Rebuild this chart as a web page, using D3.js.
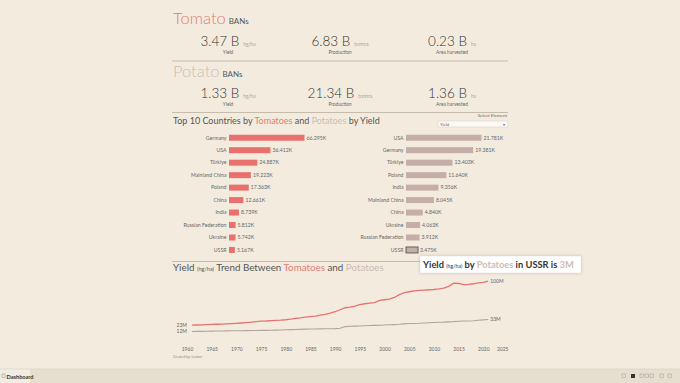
<!DOCTYPE html>
<html><head><meta charset="utf-8">
<script src="https://cdn.jsdelivr.net/npm/d3@7"></script>
<style>
html,body{margin:0;padding:0;background:#f3ecde;}
svg{display:block;font-family:Lato,"Open Sans",sans-serif;}
</style></head>
<body><svg id="c" width="680" height="383"></svg>
<script>
// ---- data ----
const banLabels = ["Yield","Production","Area harvested"];
const banUnits = ["hg/ha","tonnes","ha"];
const tomatoBans = ["3.47 B","6.83 B","0.23 B"];
const potatoBans = ["1.33 B","21.34 B","1.36 B"];

const tomatoCountries = ["Germany","USA","Türkiye","Mainland China","Poland","China","India","Russian Federation","Ukraine","USSR"];
const tomatoYield = [66295,36412,24887,19223,17363,12661,8739,5812,5742,5167];
const tomatoYieldLabels = ["66.295K","36.412K","24.887K","19.223K","17.363K","12.661K","8.739K","5.812K","5.742K","5.167K"];
const potatoCountries = ["USA","Germany","Türkiye","Poland","India","Mainland China","China","Ukraine","Russian Federation","USSR"];
const potatoYield = [21781,19381,13403,11640,9356,8045,4840,4063,3912,3475];
const potatoYieldLabels = ["21.781K","19.381K","13.403K","11.640K","9.356K","8.045K","4.840K","4.063K","3.912K","3.475K"];

const years = d3.range(1961,2022);
const tomatoTrend = [23,23.3,23.6,24,24.3,24.6,25,25.3,25.7,26.2,26.8,27.5,28.2,29.2,30,30.3,30.8,31.3,31.8,32.5,33.5,35,35.8,37,38,39,40.5,42,44,46.5,50,53.5,54.5,56.5,59,60.5,61.5,62.5,66.5,67.5,68.5,71.5,76.5,80,81.5,83,84,84.5,85,85.5,86.5,88,91,96.5,96,94,94.5,95.5,97,98,100];
const potatoTrend = [12,12.1,12.2,12.4,12.6,12.7,12.8,13,13.1,13.3,13.3,13.4,13.6,13.7,13.8,13.9,14.1,14.3,14.6,15,15.2,15.4,15.7,16,16.2,16.3,16.5,16.6,16.8,17,17.5,20.5,21,21.3,21.6,22,22.3,22.6,22.9,23.3,23.6,24,24.5,25.2,25.8,26,26.3,26.8,27.2,27.6,28,28.3,28.8,29.2,29.8,30.3,30.4,30.8,31.5,32.2,33];
const xTicks = [1960,1965,1970,1975,1980,1985,1990,1995,2000,2005,2010,2015,2020,2025];

// ---- styles ----
const C = {tomato:"#e8716e", tomatoTitle:"#e27b77", potato:"#c4aea7", potatoTitle:"#cbbcb5", potatoLine:"#b3a39c", text:"#444", sub:"#6a6a6a", rule:"#b9b0a0"};
const svg = d3.select("#c");
const L = 172, R = 508;

// ---- BANs ----
function banBlock(title, color, vals, yTitle, yVal, yLab){
  const t = svg.append("text").attr("x",173).attr("y",yTitle).attr("font-size",16.5).attr("font-weight",300).attr("fill",color).text(title);
  t.append("tspan").attr("font-size",8).attr("font-weight",400).attr("fill","#555").attr("dx",3).text("BANs");
  const centers = d3.scalePoint().domain(d3.range(3)).range([228,452]);
  vals.forEach((v,i)=>{
    const tx = svg.append("text").attr("x",centers(i)).attr("y",yVal).attr("text-anchor","middle").attr("font-size",13.5).attr("font-weight",300).attr("fill","#333").text(v);
    tx.append("tspan").attr("font-size",4.8).attr("fill","#666").attr("dx",4).text(banUnits[i]);
    svg.append("text").attr("x",centers(i)).attr("y",yLab).attr("text-anchor","middle").attr("font-size",4.8).attr("fill","#666").text(banLabels[i]);
  });
}
banBlock("Tomato", C.tomatoTitle, tomatoBans, 24, 45.5, 53.5);
svg.append("line").attr("x1",L).attr("x2",R).attr("y1",61).attr("y2",61).attr("stroke",C.rule).attr("stroke-width",0.8);
banBlock("Potato", C.potatoTitle, potatoBans, 77, 97.5, 105.5);
svg.append("line").attr("x1",L).attr("x2",R).attr("y1",112.5).attr("y2",112.5).attr("stroke",C.rule).attr("stroke-width",0.8);

// ---- Top 10 title ----
const tt = svg.append("text").attr("x",173).attr("y",124).attr("font-size",9).attr("fill","#555");
tt.append("tspan").text("Top 10 Countries by ");
tt.append("tspan").attr("fill",C.tomatoTitle).text("Tomatoes");
tt.append("tspan").text(" and ");
tt.append("tspan").attr("fill",C.potatoTitle).text("Potatoes");
tt.append("tspan").text(" by Yield");

svg.append("text").attr("x",507).attr("y",117).attr("text-anchor","end").attr("font-size",4.5).attr("fill","#666").text("Select Element");
svg.append("rect").attr("x",438).attr("y",121).attr("width",70).attr("height",6).attr("fill","#fbf9f4").attr("stroke","#d5cfc3").attr("stroke-width",0.5);
svg.append("text").attr("x",440).attr("y",125.8).attr("font-size",4.2).attr("fill","#666").text("Yield");
svg.append("text").attr("x",505).attr("y",125.8).attr("text-anchor","end").attr("font-size",4).attr("fill","#666").text("▾");

// ---- bars ----
function barChart(cats, vals, labels, x0, color, highlightLast){
  const y = d3.scaleBand().domain(cats).range([131.5,256.2]).paddingInner(0.52).paddingOuter(0.26);
  const x = d3.scaleLinear().domain([0,d3.max(vals)]).range([0,75.5]);
  const g = svg.append("g");
  g.selectAll("rect").data(cats).join("rect")
    .attr("x",x0).attr("y",d=>y(d)).attr("height",y.bandwidth())
    .attr("width",(d,i)=>x(vals[i])).attr("fill",color)
    .attr("stroke",(d,i)=>highlightLast && i===cats.length-1 ? "#555" : "none").attr("stroke-width",0.9);
  g.selectAll("text.c").data(cats).join("text").attr("class","c")
    .attr("x",x0-2.5).attr("y",d=>y(d)+y.bandwidth()/2+1.8).attr("text-anchor","end")
    .attr("font-size",5.2).attr("fill","#666").text(d=>d);
  g.selectAll("text.v").data(cats).join("text").attr("class","v")
    .attr("x",(d,i)=>x0+x(vals[i])+2).attr("y",d=>y(d)+y.bandwidth()/2+1.8)
    .attr("font-size",5.2).attr("fill","#666").text((d,i)=>labels[i]);
}
barChart(tomatoCountries, tomatoYield, tomatoYieldLabels, 229, C.tomato, false);
barChart(potatoCountries, potatoYield, potatoYieldLabels, 406, C.potato, true);

// ---- trend ----
svg.append("line").attr("x1",L).attr("x2",R).attr("y1",261.5).attr("y2",261.5).attr("stroke",C.rule).attr("stroke-width",0.8);
const lt = svg.append("text").attr("x",173).attr("y",271).attr("font-size",9.8).attr("fill","#555");
lt.append("tspan").text("Yield ");
lt.append("tspan").attr("font-size",5.5).text("(hg/ha)");
lt.append("tspan").text(" Trend Between ");
lt.append("tspan").attr("fill",C.tomatoTitle).text("Tomatoes");
lt.append("tspan").text(" and ");
lt.append("tspan").attr("fill",C.potatoTitle).text("Potatoes");

const x = d3.scaleLinear().domain([1960,2025]).range([187,508]);
const y = d3.scaleLinear().domain([0,100]).range([338.3,281.2]);
const line = d3.line().x((d,i)=>x(years[i])).y(d=>y(d));
svg.append("path").datum(tomatoTrend).attr("d",line).attr("fill","none").attr("stroke",C.tomato).attr("stroke-width",1.3);
svg.append("path").datum(potatoTrend).attr("d",line).attr("fill","none").attr("stroke",C.potatoLine).attr("stroke-width",1.1);

const fmtM = v => Math.round(v)+"M";
svg.append("text").attr("x",x(years[0])-5).attr("y",y(tomatoTrend[0])+1.8).attr("text-anchor","end").attr("font-size",5).attr("fill","#666").text(fmtM(tomatoTrend[0]));
svg.append("text").attr("x",x(years[0])-5).attr("y",y(potatoTrend[0])+1.8).attr("text-anchor","end").attr("font-size",5).attr("fill","#666").text(fmtM(potatoTrend[0]));
svg.append("text").attr("x",x(years[years.length-1])+2).attr("y",y(tomatoTrend[tomatoTrend.length-1])+1.8).attr("font-size",5).attr("fill","#666").text(fmtM(tomatoTrend[tomatoTrend.length-1]));
svg.append("text").attr("x",x(years[years.length-1])+2).attr("y",y(potatoTrend[potatoTrend.length-1])+1.8).attr("font-size",5).attr("fill","#666").text(fmtM(potatoTrend[potatoTrend.length-1]));

const ax = svg.append("g").attr("transform","translate(0,343)")
  .call(d3.axisBottom(x).tickValues(xTicks).tickFormat(d3.format("d")).tickSize(0).tickPadding(4));
ax.select(".domain").remove();
ax.selectAll("text").attr("font-size",5).attr("fill","#666").attr("font-family","Lato,sans-serif")
  .attr("text-anchor",d=>d===2025?"end":"middle");

svg.append("text").attr("x",173).attr("y",357.5).attr("font-size",3.5).attr("fill","#888").text("Created by: Lusiani");

// ---- tooltip ----
const tip = svg.append("g");
tip.append("rect").attr("x",420).attr("y",256).attr("width",161).attr("height",17).attr("fill","#ffffff")
  .attr("stroke","#e4e0d8").attr("stroke-width",0.5).style("filter","drop-shadow(0 0 1.5px rgba(0,0,0,0.18))");
const tx = tip.append("text").attr("x",423).attr("y",267.8).attr("font-size",9.3).attr("font-weight",700).attr("fill","#333");
tx.append("tspan").text("Yield ");
tx.append("tspan").attr("font-size",5.2).attr("font-weight",400).text("(hg/ha)");
tx.append("tspan").text(" by ");
tx.append("tspan").attr("fill",C.potatoTitle).text("Potatoes");
tx.append("tspan").text(" in USSR is ");
tx.append("tspan").attr("fill",C.potatoTitle).text("3M");

// ---- bottom bar ----
svg.append("rect").attr("x",0).attr("y",369).attr("width",680).attr("height",14).attr("fill","#e6dfcf");
svg.append("line").attr("x1",0).attr("x2",680).attr("y1",369).attr("y2",369).attr("stroke","#d8d0bf").attr("stroke-width",0.6);
svg.append("rect").attr("x",0).attr("y",369.5).attr("width",30).attr("height",13.5).attr("fill","#f2ede2");
svg.append("rect").attr("x",2).attr("y",374).attr("width",3).attr("height",3.5).attr("fill","none").attr("stroke","#888").attr("stroke-width",0.5);
svg.append("text").attr("x",6.5).attr("y",378.5).attr("font-size",5.6).attr("font-weight",700).attr("fill","#333").text("Dashboard");
const icons = [622,631,640,645,650,660,668];
icons.forEach((ix,i)=>{
  svg.append("rect").attr("x",ix).attr("y",374).attr("width",i===1?4:3.5).attr("height",i===1?4:3.5)
    .attr("fill",i===1?"#333":"none").attr("stroke",i===1?"none":"#999").attr("stroke-width",0.5);
});
</script></body></html>
